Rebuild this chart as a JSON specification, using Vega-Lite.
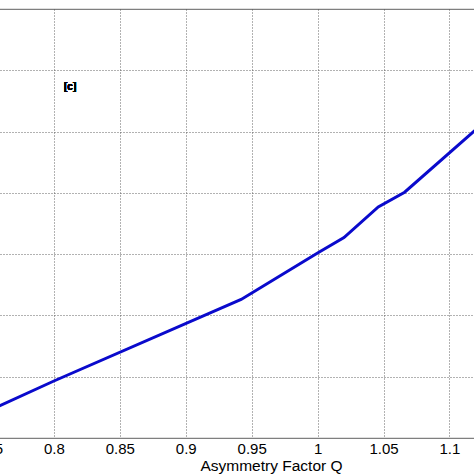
{
  "$schema": "https://vega.github.io/schema/vega-lite/v6.json",
  "width": 501,
  "height": 429,
  "autosize": {"type": "none"},
  "padding": {"left": -12, "top": 9, "right": -15, "bottom": 36},
  "background": "white",
  "config": {
    "font": "Liberation Sans",
    "view": {"stroke": "#7f7f7f", "strokeWidth": 1.2},
    "axis": {"gridColor": "#555555", "gridDash": [1, 2], "gridOpacity": 0.9, "gridWidth": 1}
  },
  "data": {"values": [
    {"Q": 0.75, "y": 0.44},
    {"Q": 0.8, "y": 0.93},
    {"Q": 0.942, "y": 2.26},
    {"Q": 1.0, "y": 3.02},
    {"Q": 1.02, "y": 3.27},
    {"Q": 1.046, "y": 3.77},
    {"Q": 1.066, "y": 4.01},
    {"Q": 1.13, "y": 5.22}
  ]},
  "layer": [
    {
      "mark": {"type": "line", "color": "#0a0acc", "strokeWidth": 3, "clip": true},
      "encoding": {
        "x": {"field": "Q", "type": "quantitative", "scale": {"domain": [0.75, 1.13], "nice": false, "zero": false},
          "axis": {"title": "Asymmetry Factor Q", "values": [0.75, 0.8, 0.85, 0.9, 0.95, 1, 1.05, 1.1], "format": "~g",
            "labelFontSize": 15, "labelColor": "#000000", "labelPadding": 3, "tickSize": 0, "labelFlush": false, "labelOverlap": false, "labelBound": false,
            "domainColor": "#7f7f7f", "domainWidth": 1.2,
            "titleFontSize": 15.5, "titleFontWeight": "normal", "titleColor": "#000000", "titleX": 283, "titleY": 32, "titleBaseline": "alphabetic"}},
        "y": {"field": "y", "type": "quantitative", "scale": {"domain": [0, 7], "nice": false},
          "axis": {"title": null, "labels": false, "ticks": false, "domain": false, "values": [1, 2, 3, 4, 5, 6]}}
      }
    },
    {
      "mark": {"type": "text", "text": "[c]", "fontSize": 10, "fontWeight": "bold", "color": "#000000"},
      "encoding": {
        "x": {"datum": 0.8123, "type": "quantitative"},
        "y": {"datum": 5.72, "type": "quantitative"}
      }
    }
  ]
}
